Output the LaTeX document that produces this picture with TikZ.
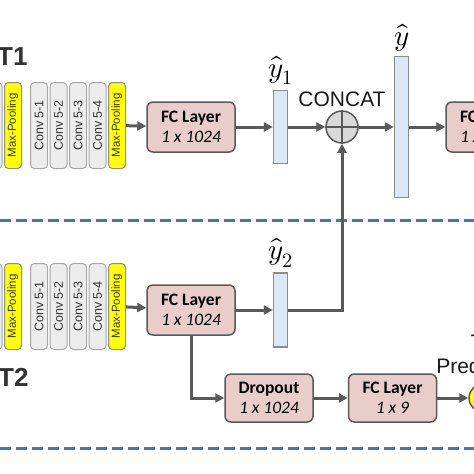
\documentclass[tikz,border=0pt]{standalone}
\usepackage{fontspec}
\usepackage{unicode-math}
\setmainfont{Liberation Sans}
\setmathfont{Latin Modern Math}
\newfontfamily\calfont{Carlito}
\usetikzlibrary{positioning, arrows.meta, shapes}

\definecolor{fcpink}{HTML}{E8CDCA}
\definecolor{fcline}{HTML}{595959}
\definecolor{convfill}{HTML}{ECECEC}
\definecolor{convline}{HTML}{A6A6A6}
\definecolor{poolfill}{HTML}{FFFF00}
\definecolor{barfill}{HTML}{DCE6F4}
\definecolor{barline}{HTML}{8C8C8C}
\definecolor{sepblue}{HTML}{4472C4}
\definecolor{flowgray}{HTML}{595959}

\newcommand{\vtext}[1]{\rotatebox{90}{#1}}

\begin{document}
\begin{tikzpicture}[
    x=1pt, y=-1pt,
    >={Triangle[length=9pt, width=9pt]},
    flow/.style={->, line width=3pt, draw=flowgray},
    fc/.style={rectangle, rounded corners=6pt, draw=fcline, line width=1.5pt, fill=fcpink,
      minimum width=88pt, minimum height=50pt, align=center, inner sep=0pt,
      font=\calfont\fontsize{17.5}{21}\selectfont},
    conv/.style={rectangle, rounded corners=4pt, draw=convline, line width=1pt, fill=convfill,
      minimum width=17pt, minimum height=86pt, inner sep=0pt, text=black!80,
      font=\fontsize{12.5}{14}\selectfont},
    pool/.style={conv, fill=poolfill, draw=black!45, font=\fontsize{11.5}{14}\selectfont},
    bar/.style={rectangle, draw=barline, line width=1.5pt, fill=barfill, minimum width=14pt, inner sep=0pt},
    sep/.style={draw=sepblue, line width=3pt, dash pattern=on 11pt off 5pt},
    lbl/.style={font=\fontsize{21}{26}\selectfont, text=black!90},
    yhat/.style={font=\fontsize{29}{32}\selectfont, inner sep=0pt},
    side/.style={font=\bfseries\fontsize{26}{28}\selectfont, text=black!80, anchor=east}
  ]

  \useasboundingbox (0,0) rectangle (474,474);
  \clip (0,0) rectangle (474,474);

  % --- SEPARATORS ---
  \draw[sep] (0,220) -- (474,220);
  \draw[sep] (0,448) -- (474,448);

  % --- T1 BRANCH ---
  \node[side] (t1) at (31,57) {T1};
  \node[pool] (p1a) at (13,125.5) {\vtext{Max-Pooling}};
  \node[conv, left=1.5pt of p1a] (g1) {};
  \node[conv] (c11) at (39,125.5) {\vtext{Conv 5-1}};
  \node[conv, right=1.5pt of c11] (c12) {\vtext{Conv 5-2}};
  \node[conv, right=1.5pt of c12] (c13) {\vtext{Conv 5-3}};
  \node[conv, right=1.5pt of c13] (c14) {\vtext{Conv 5-4}};
  \node[pool, right=1.5pt of c14] (p1b) {\vtext{Max-Pooling}};

  \node[fc] (fc1) at (191,127) {\textbf{FC Layer}\\[-1pt] \textit{1 x 1024}};
  \node[bar, minimum height=73pt, right=37pt of fc1] (y1) {};
  \node[yhat, above=5pt of y1] (y1l) {$\hat{y}_1$};
  \node[circle, draw=fcline, line width=1.5pt, fill=black!15, minimum size=32pt, inner sep=0pt,
        right=37pt of y1] (cat) {};
  \draw[fcline, line width=1.5pt] (cat.north) -- (cat.south) (cat.west) -- (cat.east);
  \node[lbl, above=0pt of cat] (catl) {CONCAT};
  \node[bar, minimum height=141pt, right=35pt of cat] (yh) {};
  \node[yhat, above=4pt of yh] (yhl) {$\hat{y}$};
  \node[fc, right=36pt of yh] (fcr) {\textbf{FC Layer}\\[-1pt] \textit{1 x 1024}};

  % --- T2 BRANCH ---
  \node[side] (t2) at (32,377) {T2};
  \node[pool] (p2a) at (13,306.5) {\vtext{Max-Pooling}};
  \node[conv, left=1.5pt of p2a] (g2) {};
  \node[conv] (c21) at (39,306.5) {\vtext{Conv 5-1}};
  \node[conv, right=1.5pt of c21] (c22) {\vtext{Conv 5-2}};
  \node[conv, right=1.5pt of c22] (c23) {\vtext{Conv 5-3}};
  \node[conv, right=1.5pt of c23] (c24) {\vtext{Conv 5-4}};
  \node[pool, right=1.5pt of c24] (p2b) {\vtext{Max-Pooling}};

  \node[fc] (fc2) at (191,310) {\textbf{FC Layer}\\[-1pt] \textit{1 x 1024}};
  \node[bar, minimum height=74pt, right=37pt of fc2] (y2) {};
  \node[yhat, above=5pt of y2] (y2l) {$\hat{y}_2$};
  \node[fc, minimum height=48pt] (drop) at (269,398) {\textbf{Dropout}\\[-1pt] \textit{1 x 1024}};
  \node[fc, minimum height=48pt, right=34pt of drop] (fc3) {\textbf{FC Layer}\\[-1pt] \textit{1 x 9}};
  \node[circle, draw=fcline, line width=1.5pt, fill=poolfill, minimum size=28pt, inner sep=0pt,
        right=31pt of fc3] (pred) {};
  \node[lbl, align=center, above=6pt of pred] (predl) {T2\\[-2pt]Prediction};

  % --- FLOW ---
  \draw[flow] (p1b) -- (fc1);
  \draw[flow] (fc1) -- (y1);
  \draw[flow] (y1) -- (cat);
  \draw[flow] (cat) -- (yh);
  \draw[flow] (yh) -- (fcr);

  \draw[flow] (p2b) -- (fc2);
  \draw[flow] (fc2) -- (y2);
  \draw[flow] (y2.east) -| (cat.south);
  \draw[flow] (fc2.south) |- (drop.west);
  \draw[flow] (drop) -- (fc3);
  \draw[flow] (fc3) -- (pred);

\end{tikzpicture}
\end{document}
